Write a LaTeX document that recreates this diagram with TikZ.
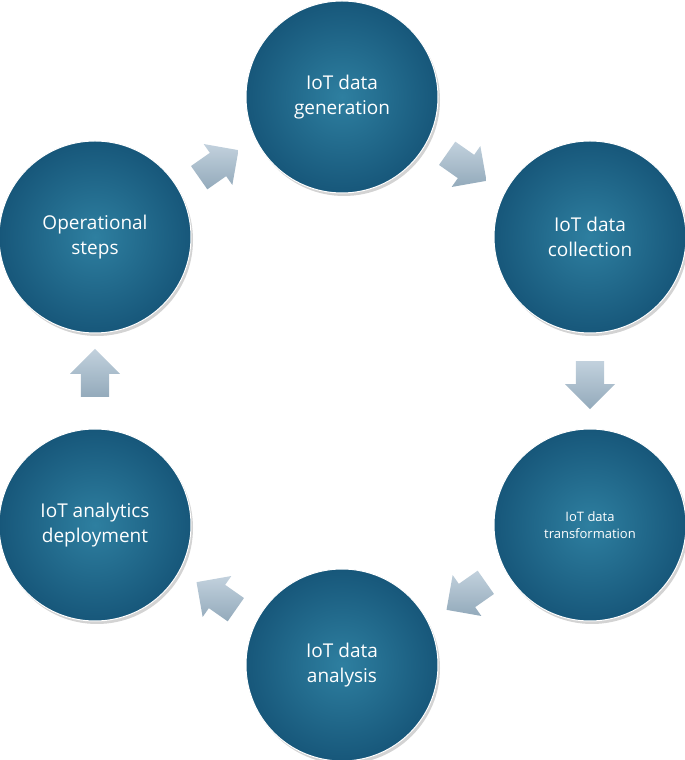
\documentclass[tikz,border=0pt]{standalone}
\usepackage{fontspec}
\setmainfont{Open Sans}
\usetikzlibrary{shapes.arrows,shadows}
\begin{document}
\begin{tikzpicture}[x=1pt,y=1pt,
  stage/.style={circle,minimum size=192pt,inner sep=0pt,align=center,text=white,
    font=\fontsize{19}{25}\selectfont,
    shading=radial,inner color=teal2,
    outer color=teal1,draw=white,line width=1pt,
    drop shadow={shadow xshift=2pt,shadow yshift=-3pt,opacity=0.35}},
  flow/.style={single arrow,minimum height=48pt,minimum width=50pt,
    single arrow head extend=10pt,inner xsep=0pt,inner ysep=13pt,
    top color=arrowA,bottom color=arrowB,draw=none,rotate=#1}]
\definecolor{teal1}{HTML}{17577A}
\definecolor{teal2}{HTML}{2E7FA0}
\definecolor{arrowA}{HTML}{C2D1DD}
\definecolor{arrowB}{HTML}{93AABB}
\useasboundingbox (0,0) rectangle (685,760);
\node[stage] (gen) at (342,663) {IoT data\\generation};
\node[stage] (col) at (590,523) {IoT data\\collection};
\node[stage,font=\fontsize{13}{17}\selectfont] (tra) at (590,235) {IoT data\\transformation};
\node[stage] (ana) at (342,95) {IoT data\\analysis};
\node[stage] (dep) at (95,235) {IoT analytics\\deployment};
\node[stage] (ops) at (95,523) {Operational\\steps};
\node[flow=-35] (a1) at (461,597) {};
\node[flow=-90] (a2) at (590,382) {};
\node[flow=-145] (a3) at (472,168) {};
\node[flow=145] (a4) at (222,160) {};
\node[flow=90] (a5) at (95,380) {};
\node[flow=35] (a6) at (213,592) {};
\end{tikzpicture}
\end{document}
